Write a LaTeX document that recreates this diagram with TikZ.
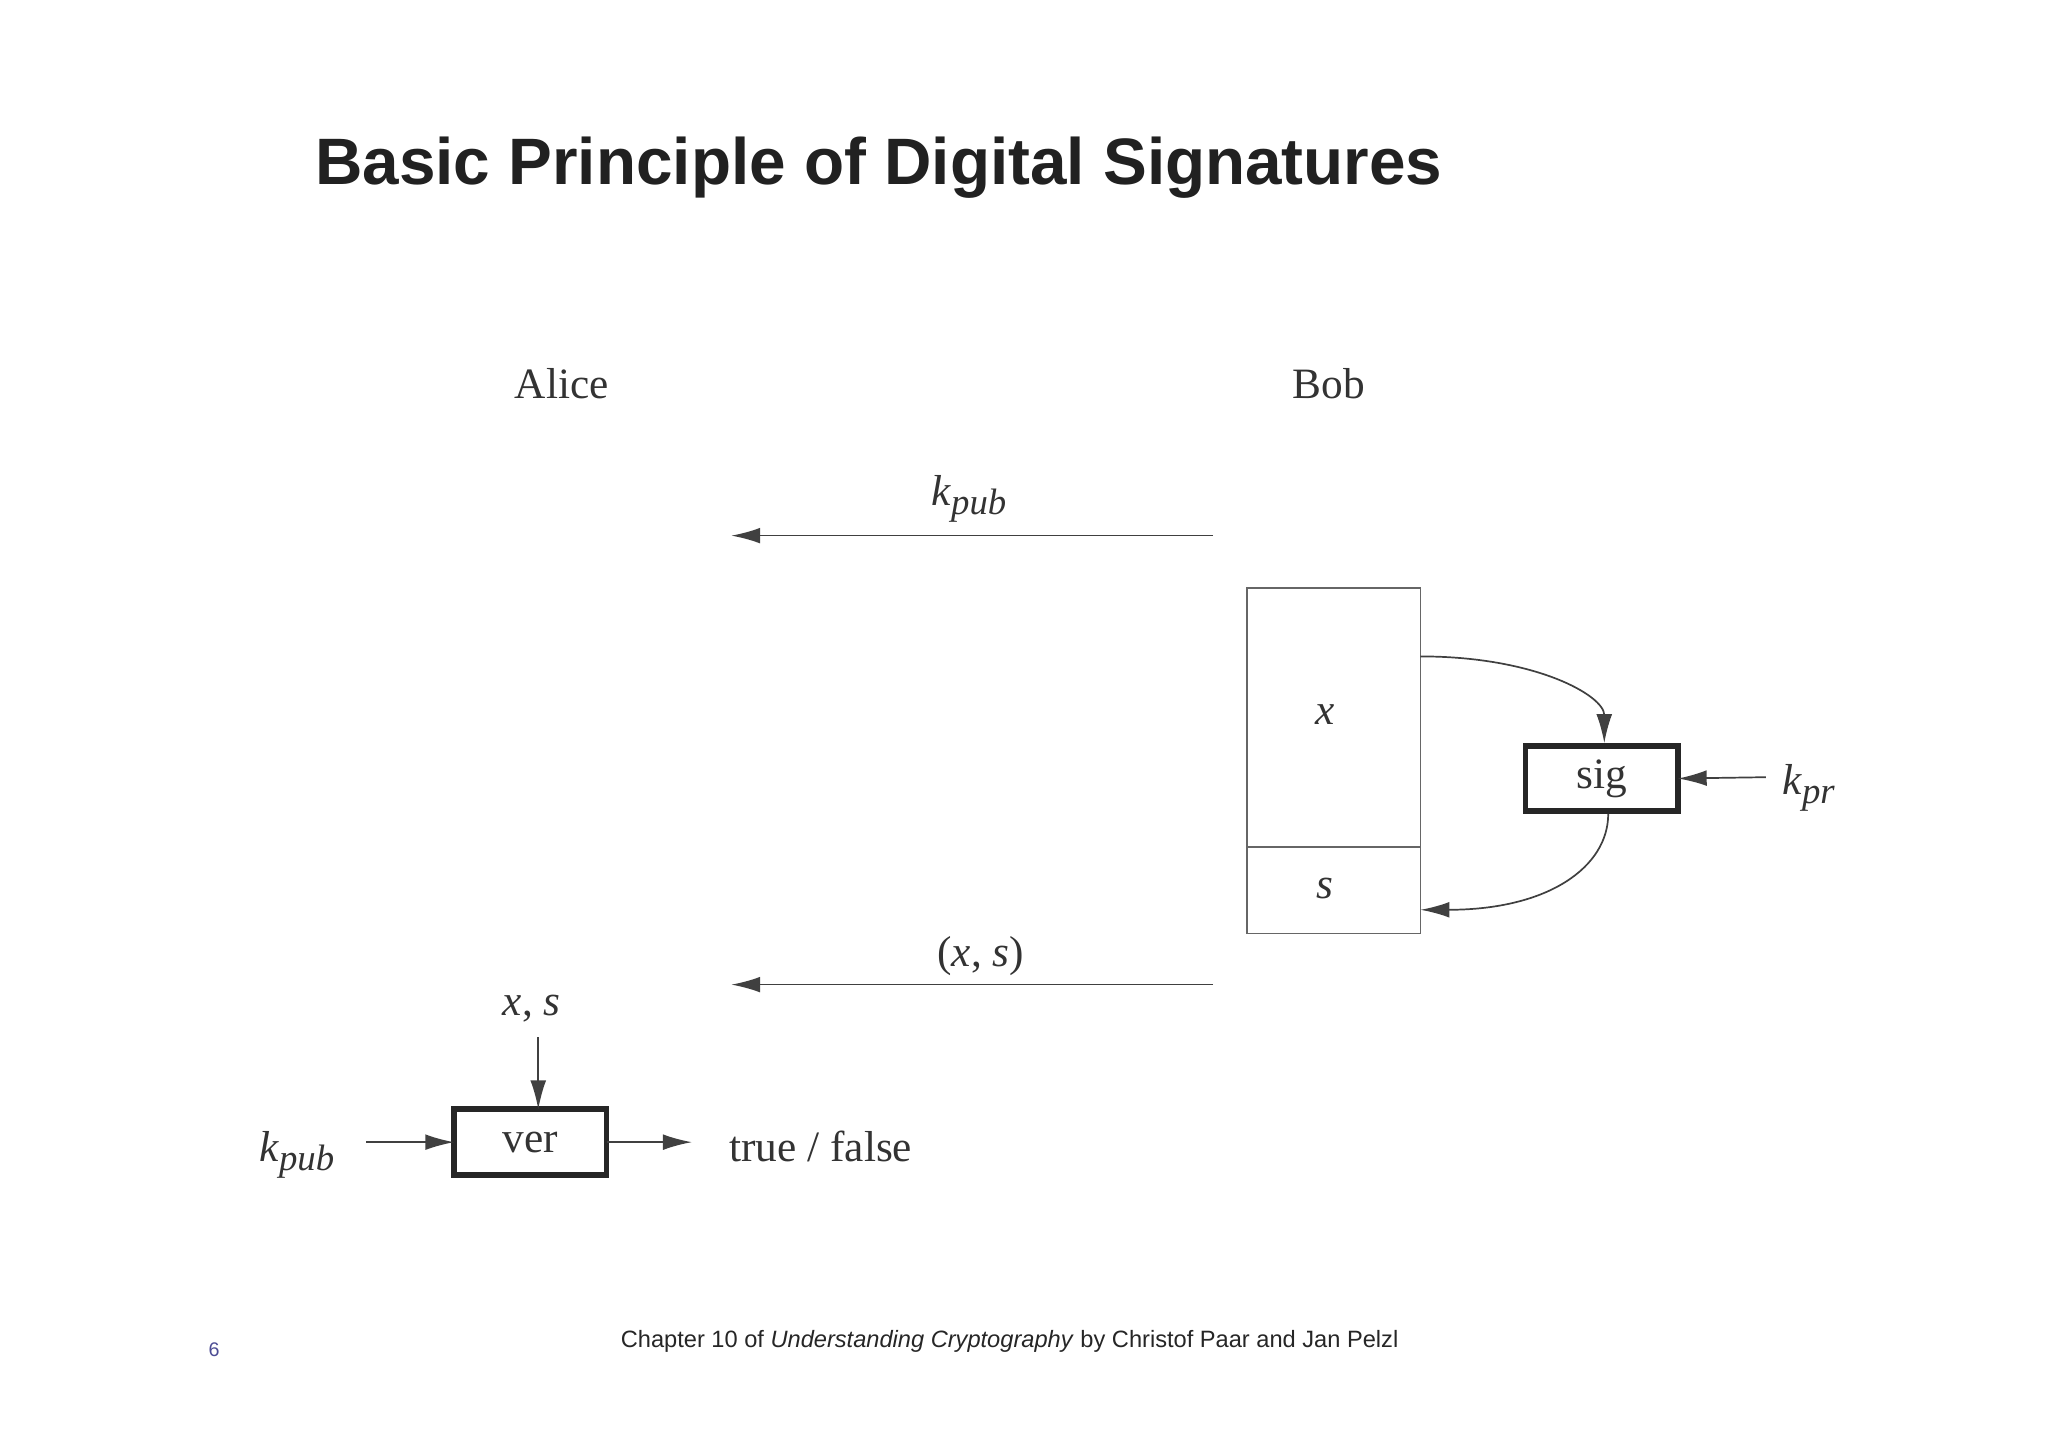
\documentclass[tikz,border=0pt]{standalone}
\usepackage{fontspec}
\setmainfont{Liberation Serif}
\setsansfont{Liberation Sans}
\usetikzlibrary{arrows.meta}
\newcommand{\kk}[1]{\textit{k}\raisebox{-0.45ex}{\fontsize{28}{30}\selectfont\textit{#1}}}
\begin{document}
\begin{tikzpicture}[x=1pt,y=-1pt,
  lbl/.style={font=\fontsize{33}{36}\selectfont,text=black!80},
  arr/.style={draw=black!75,line width=1.3pt,-{Latex[length=22pt,width=12pt]}},
  thin/.style={draw=black!60,line width=1.2pt,outer sep=0pt},
  fbox/.style={draw=black!85,line width=4.5pt,minimum width=116pt,minimum height=50pt,inner sep=0pt,outer sep=0pt,font=\fontsize{33}{36}\selectfont,text=black!80}]
\useasboundingbox (0,0) rectangle (1560,1102);
\node[anchor=west,font=\sffamily\bfseries\fontsize{50}{56}\selectfont,text=black!87,inner sep=0pt] (title) at (240,128) {Basic Principle of Digital Signatures};
\node[lbl] (alice) at (428,292) {Alice};
\node[lbl] (bob) at (1012,292) {Bob};
% key transfer
\coordinate (k1s) at (924,408); \coordinate (k1e) at (557,408);
\draw[arr] (k1s) -- (k1e);
\node[lbl] (kpubtop) at (738,380) {\kk{pub}};
% message box
\node[thin,draw,minimum width=132pt,minimum height=197pt,inner sep=0pt,anchor=north west] (xbox) at (950,448) {};
\node[thin,draw,minimum width=132pt,minimum height=66pt,inner sep=0pt,anchor=north west] (sbox) at (950,645) {};
\node[lbl] (xl) at (1009,544) {\textit{x}};
\node[lbl] (sl) at (1009,677) {\textit{s}};
\node[fbox] (sig) at (1220,593) {sig};
\coordinate (kprs) at (1345,592);
\draw[arr] (kprs) -- (sig.east);
\node[lbl,anchor=west] (kpr) at (1354,600) {\kk{pr}};
\coordinate (xo) at (1082,500);
\draw[arr] (xo) .. controls (1170,500) and (1222,530) .. (1222,566);
\coordinate (si) at (1082,693);
\draw[arr] (1225,620) .. controls (1225,660) and (1180,693) .. (si);
% send
\coordinate (m1s) at (924,750); \coordinate (m1e) at (557,750);
\draw[arr] (m1s) -- (m1e);
\node[lbl] (xs) at (747,728) {(\textit{x}, \textit{s})};
% verify
\node[fbox] (ver) at (404,870) {ver};
\node[lbl] (xsin) at (405,768) {\textit{x}, \textit{s}};
\coordinate (xsa) at (410,790);
\draw[arr] (xsa) -- (ver.north -| xsa);
\node[lbl] (kpubb) at (226,880) {\kk{pub}};
\coordinate (kpa) at (279,870);
\draw[arr] (kpa) -- (ver.west);
\coordinate (tfa) at (527,870);
\draw[arr] (ver.east) -- (tfa);
\node[lbl,anchor=west] (tf) at (552,873) {true / false};
% footer
\node[font=\sffamily\fontsize{15}{18}\selectfont,text=blue!40!black!70] (pg) at (163,1028) {6};
\node[font=\sffamily\fontsize{18}{22}\selectfont,text=black!85] (foot) at (769,1022) {Chapter 10 of \textit{Understanding Cryptography} by Christof Paar and Jan Pelzl};
\end{tikzpicture}
\end{document}
